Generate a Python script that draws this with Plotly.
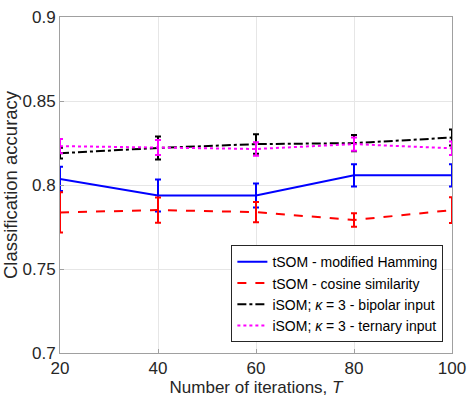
import plotly.graph_objects as go

iterations = [20, 40, 60, 80, 100]
hamming = [0.8037, 0.7938, 0.7938, 0.8058, 0.8058]
hamming_err = [0.0072, 0.0095, 0.0072, 0.0066, 0.0066]
cosine = [0.7837, 0.7851, 0.7839, 0.7792, 0.7851]
cosine_err = [0.0120, 0.0075, 0.0060, 0.0040, 0.0077]
bipolar = [0.8190, 0.8221, 0.8244, 0.8250, 0.8283]
bipolar_err = [0.0032, 0.0068, 0.0058, 0.0048, 0.0048]
ternary = [0.8232, 0.8224, 0.8215, 0.8244, 0.8219]
ternary_err = [0.0042, 0.0045, 0.0040, 0.0040, 0.0040]

names = ["tSOM - modified Hamming", "tSOM - cosine similarity",
         "iSOM; <i>κ</i> = 3 - bipolar input", "iSOM; <i>κ</i> = 3 - ternary input"]
colors = ["#0000ff", "#ff0000", "#000000", "#ff00ff"]
dashes = ["solid", "dash", "dashdot", "dot"]
series = [(hamming, hamming_err), (cosine, cosine_err), (bipolar, bipolar_err), (ternary, ternary_err)]

fig = go.Figure()
for (vals, errs), name, col, dash in zip(series, names, colors, dashes):
    fig.add_trace(go.Scatter(
        x=iterations, y=vals, name=name, mode="lines",
        line=dict(color=col, width=2, dash=dash),
        error_y=dict(type="data", array=errs, visible=True, color=col, thickness=2, width=3),
    ))

fig.update_layout(
    width=474, height=399,
    margin=dict(l=57, r=15, t=8, b=46),
    paper_bgcolor="white", plot_bgcolor="white",
    font=dict(family="Liberation Sans, Arial, sans-serif", color="#262626"),
    showlegend=True,
    legend=dict(x=0.978, xanchor="right", y=0.032, yanchor="bottom",
                bgcolor="white", bordercolor="#262626", borderwidth=1,
                font=dict(size=14, color="#000000"), tracegroupgap=0,
                itemwidth=30),
)
fig.update_xaxes(range=[20, 100], tickvals=[20, 40, 60, 80, 100],
                 showgrid=True, gridcolor="#e6e6e6", gridwidth=1,
                 showline=True, linecolor="#a0a0a0", mirror=True,
                 ticks="inside", ticklen=4, tickcolor="#a0a0a0",
                 tickfont=dict(size=17, color="#262626"), zeroline=False,
                 title=dict(text="Number of iterations, <i>T</i>", font=dict(size=17), standoff=1))
fig.update_yaxes(range=[0.7, 0.9001], tickvals=[0.7, 0.75, 0.8, 0.85, 0.9],
                 ticktext=["0.7", "0.75", "0.8", "0.85", "0.9"],
                 showgrid=True, gridcolor="#e6e6e6", gridwidth=1,
                 showline=True, linecolor="#a0a0a0", mirror=True,
                 ticks="inside", ticklen=4, tickcolor="#a0a0a0",
                 tickfont=dict(size=17, color="#262626"), zeroline=False,
                 title=dict(text="Classification accuracy", font=dict(size=18.5), standoff=2))

fig.write_html("out.html", config={"displayModeBar": False},
               post_script="document.body.style.margin='0';")
